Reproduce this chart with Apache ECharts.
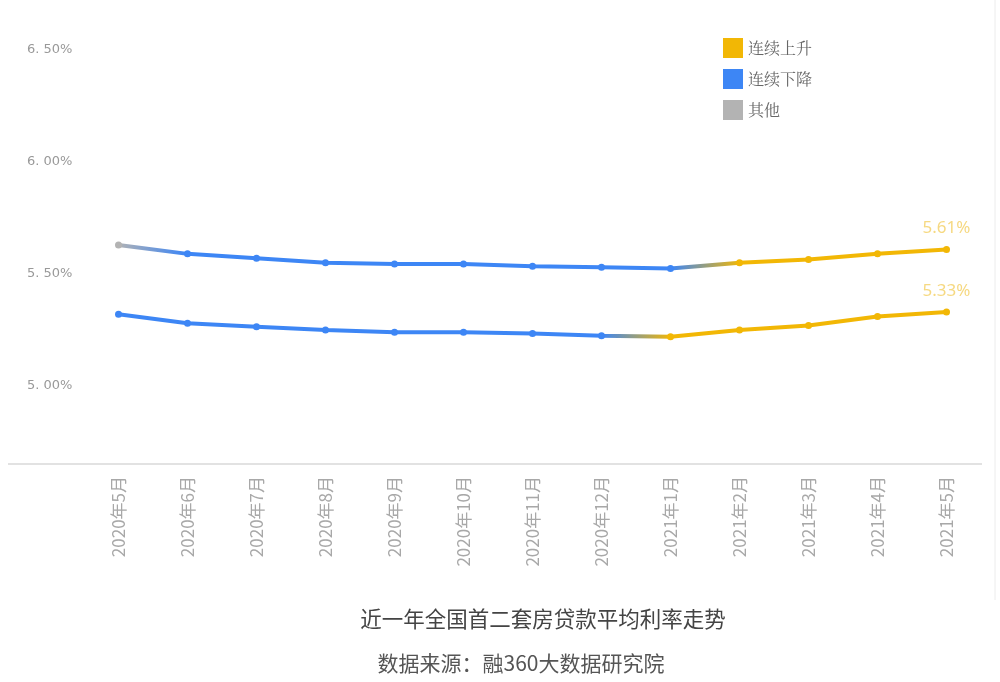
<!DOCTYPE html>
<html>
<head>
<meta charset="utf-8">
<script src="https://cdn.jsdelivr.net/npm/echarts@6/dist/echarts.min.js"></script>
<style>
  html, body { margin: 0; padding: 0; background: #fff; }
  #chart { width: 1000px; height: 682px; }
</style>
</head>
<body>
<div id="chart"></div>
<script>
// 月份
const months = ['2020年5月', '2020年6月', '2020年7月', '2020年8月', '2020年9月', '2020年10月',
    '2020年11月', '2020年12月', '2021年1月', '2021年2月', '2021年3月', '2021年4月', '2021年5月'];
// 二套房 / 首套房 利率
const upperRates = [5.63, 5.59, 5.57, 5.55, 5.545, 5.545, 5.535, 5.53, 5.525, 5.55, 5.565, 5.59, 5.61];
const lowerRates = [5.32, 5.28, 5.265, 5.25, 5.24, 5.24, 5.235, 5.225, 5.22, 5.25, 5.27, 5.31, 5.33];
// 每个点的走势状态
const upperState = ['其他', '连续下降', '连续下降', '连续下降', '连续下降', '连续下降', '连续下降',
    '连续下降', '连续下降', '连续上升', '连续上升', '连续上升', '连续上升'];
const lowerState = ['连续下降', '连续下降', '连续下降', '连续下降', '连续下降', '连续下降', '连续下降',
    '连续下降', '连续上升', '连续上升', '连续上升', '连续上升', '连续上升'];
const legendNames = ['连续上升', '连续下降', '其他'];
const yTicks = [5.0, 5.5, 6.0, 6.5];

const stateColor = {
    '连续上升': '#f2b705',
    '连续下降': '#3d86f5',
    '其他': '#b3b3b3'
};

const chart = echarts.init(document.getElementById('chart'));

function lineGradient(states) {
    const n = states.length - 1;
    const stops = states.map(function (s, i) {
        return { offset: i / n, color: stateColor[s] };
    });
    return new echarts.graphic.LinearGradient(0, 0, 1, 0, stops);
}

function makeLine(name, values, states) {
    return {
        name: name,
        type: 'line',
        data: values,
        symbol: 'circle',
        symbolSize: 7,
        smooth: false,
        lineStyle: { width: 4, color: lineGradient(states) },
        itemStyle: {
            color: function (p) { return stateColor[states[p.dataIndex]]; }
        },
        label: {
            show: true,
            position: 'top',
            distance: 9,
            color: '#f6d982',
            fontSize: 17,
            fontFamily: 'Noto Sans',
            formatter: function (p) {
                return p.dataIndex === values.length - 1 ? p.value.toFixed(2) + '%' : '';
            }
        },
        z: 3
    };
}

const legendSeries = legendNames.map(function (n) {
    return {
        name: n,
        type: 'line',
        data: [],
        itemStyle: { color: stateColor[n] }
    };
});

const option = {
    animation: false,
    backgroundColor: '#fff',
    title: [
        {
            text: '近一年全国首二套房贷款平均利率走势',
            left: 538,
            top: 603,
            textAlign: 'center',
            textStyle: { fontSize: 21.5, fontWeight: 'normal', color: '#444', fontFamily: 'Noto Sans CJK SC' }
        },
        {
            text: '数据来源：融360大数据研究院',
            left: 516,
            top: 648,
            textAlign: 'center',
            textStyle: { fontSize: 21, fontWeight: 'normal', color: '#555', fontFamily: 'Noto Sans CJK SC' }
        }
    ],
    legend: {
        data: legendNames.map(function (n) { return { name: n, icon: 'rect' }; }),
        orient: 'vertical',
        left: 718,
        top: 33,
        itemWidth: 20,
        itemHeight: 20,
        itemGap: 11,
        textStyle: { fontSize: 16, color: '#666', fontFamily: 'Noto Serif CJK SC, Noto Sans CJK SC' }
    },
    grid: { left: 84, right: 19, top: 50, bottom: 218 },
    xAxis: {
        type: 'category',
        data: months,
        boundaryGap: true,
        axisLine: { show: false },
        axisTick: { show: false },
        axisLabel: {
            rotate: 90,
            margin: 12,
            fontSize: 17,
            color: '#a8a8a8',
            fontFamily: 'Noto Sans CJK SC'
        }
    },
    yAxis: {
        type: 'value',
        min: 4.652,
        max: 6.5,
        splitLine: { show: false },
        axisLine: { show: false },
        axisTick: { show: false },
        axisLabel: {
            customValues: yTicks,
            align: 'left',
            margin: 57,
            fontSize: 13,
            color: '#999',
            fontFamily: 'DejaVu Sans',
            formatter: function (v) {
                return v.toFixed(2).replace('.', '. ') + '%';
            }
        }
    },
    graphic: [
        {
            type: 'line',
            shape: { x1: 8, y1: 464, x2: 982, y2: 464 },
            style: { stroke: '#e2e2e2', lineWidth: 2 }
        },
        {
            type: 'line',
            shape: { x1: 995, y1: 0, x2: 995, y2: 600 },
            style: { stroke: '#ececec', lineWidth: 1 }
        }
    ],
    series: [
        makeLine('二套房', upperRates, upperState),
        makeLine('首套房', lowerRates, lowerState)
    ].concat(legendSeries)
};

chart.setOption(option);
</script>
</body>
</html>
